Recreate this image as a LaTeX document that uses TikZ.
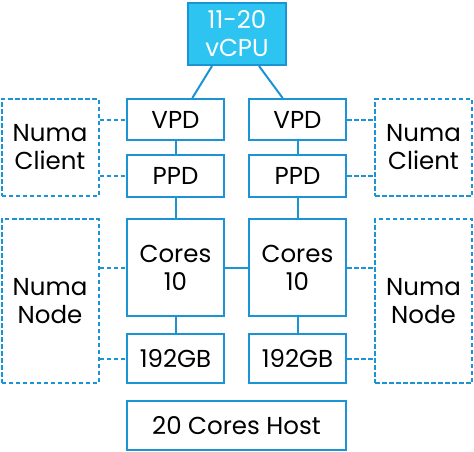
\documentclass[tikz,border=0pt]{standalone}
\usepackage{fontspec}
\setmainfont{Poppins}
\usepackage{tikz}
\usetikzlibrary{calc}
\definecolor{line}{HTML}{1A94D4}
\definecolor{topfill}{HTML}{2DC4F2}
\definecolor{ink}{HTML}{000000}
\tikzset{
  box/.style={draw=line, line width=2pt, fill=white, text=ink,
    font=\fontsize{24.5}{28}\selectfont, align=center, inner sep=0pt},
  topbox/.style={box, fill=topfill, text=white},
  numa/.style={draw=line, line width=2pt, dash pattern=on 4.5pt off 2.5pt, text=ink,
    font=\fontsize{24.5}{28}\selectfont, align=center, inner sep=0pt},
  link/.style={draw=line, line width=2pt},
  dlink/.style={draw=line, line width=2pt, dash pattern=on 4.5pt off 2.5pt}
}
\begin{document}
\begin{tikzpicture}[x=1pt,y=-1pt]
  \useasboundingbox (0,0) rectangle (474,451);
  \node[topbox, minimum width=98pt, minimum height=62pt] (vcpu) at (237,34) {11-20\\vCPU};

  \foreach \s/\x/\nx in {L/175.5/50, R/297.5/423.5}{
    \node[box, minimum width=97pt, minimum height=41pt] (vpd\s) at (\x,119.5) {VPD};
    \node[box, minimum width=97pt, minimum height=42pt] (ppd\s) at (\x,176) {PPD};
    \node[box, minimum width=97pt, minimum height=97pt] (cores\s) at (\x,267.5) {Cores\\10};
    \node[box, minimum width=97pt, minimum height=49pt] (mem\s) at (\x,358.5) {192GB};
    \node[numa, minimum width=97pt, minimum height=97pt] (client\s) at (\nx,147.5) {Numa\\Client};
    \node[numa, minimum width=97pt, minimum height=164pt] (node\s) at (\nx,301) {Numa\\Node};
    \draw[link] (vpd\s) -- (ppd\s);
    \draw[link] (ppd\s) -- (cores\s);
    \draw[link] (cores\s) -- (mem\s);
  }
  \node[box, minimum width=219pt, minimum height=49pt] (host) at (236.5,425.5) {20 Cores Host};

  \draw[link] ($(vcpu.south west)!0.25!(vcpu.south east)$) -- ($(vpdL.north west)!0.67!(vpdL.north east)$);
  \draw[link] ($(vcpu.south west)!0.72!(vcpu.south east)$) -- ($(vpdR.north west)!0.35!(vpdR.north east)$);
  \draw[link] (coresL) -- (coresR);

  % dashed ties to the numa boxes
  \draw[dlink] (clientL.east |- vpdL.west) -- (vpdL.west);
  \draw[dlink] (clientL.east |- ppdL.west) -- (ppdL.west);
  \draw[dlink] (nodeL.east |- coresL.west) -- (coresL.west);
  \draw[dlink] (nodeL.east |- memL.west) -- (memL.west);
  \draw[dlink] (vpdR.east) -- (clientR.west |- vpdR.east);
  \draw[dlink] (ppdR.east) -- (clientR.west |- ppdR.east);
  \draw[dlink] (coresR.east) -- (nodeR.west |- coresR.east);
  \draw[dlink] (memR.east) -- (nodeR.west |- memR.east);
\end{tikzpicture}
\end{document}
